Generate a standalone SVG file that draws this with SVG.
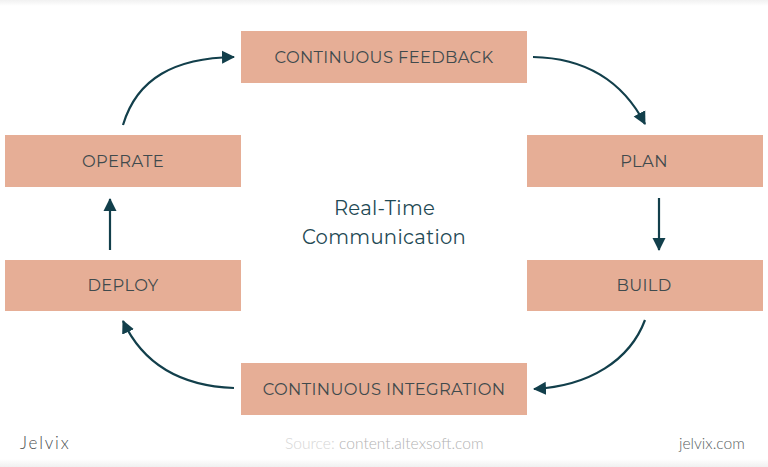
<svg xmlns="http://www.w3.org/2000/svg" width="768" height="467" viewBox="0 0 768 467">
<defs>
<linearGradient id="top" x1="0" y1="0" x2="0" y2="1"><stop offset="0" stop-color="#f1f1f1"/><stop offset="1" stop-color="#ffffff"/></linearGradient>
<linearGradient id="bot" x1="0" y1="0" x2="0" y2="1"><stop offset="0" stop-color="#ffffff"/><stop offset="1" stop-color="#f0f0f0"/></linearGradient>
<marker id="ah" markerUnits="userSpaceOnUse" markerWidth="14" markerHeight="14" refX="12" refY="7" orient="auto"><path d="M0 0.5L13 7L0 13.5Z" fill="#123f4b"/></marker>
</defs>
<style>
.b{fill:#e6ae96}
.t{font-family:Montserrat,"Lato","Liberation Sans",sans-serif;font-size:16.35px;fill:#3f4a4d;text-anchor:middle;letter-spacing:.35px}
.c{fill:none;stroke:#123f4b;stroke-width:2.2;marker-end:url(#ah)}
.f{font-family:"Lato","Liberation Sans",sans-serif;font-size:15.6px;font-weight:300}
</style>
<rect width="768" height="467" fill="#ffffff"/>
<rect width="768" height="6" fill="url(#top)"/>
<rect y="459" width="768" height="8" fill="url(#bot)"/>
<g id="connectors">
<path class="c" d="M533 57C585 58 622 80 645 124"/>
<path class="c" d="M659 198V250"/>
<path class="c" d="M645 320C630 360 590 386 534 389"/>
<path class="c" d="M234 388C180 386 143 364 123 321"/>
<path class="c" d="M110 250V199"/>
<path class="c" d="M123 125C137 78 175 58 234 57"/>
</g>
<g id="node-feedback"><rect class="b" x="241" y="31" width="286" height="52"/><text class="t" x="384" y="63">CONTINUOUS FEEDBACK</text></g>
<g id="node-plan"><rect class="b" x="527" y="135" width="236" height="52"/><text class="t" x="644" y="167">PLAN</text></g>
<g id="node-build"><rect class="b" x="527" y="260" width="236" height="51"/><text class="t" x="644" y="291">BUILD</text></g>
<g id="node-integration"><rect class="b" x="241" y="363" width="286" height="52"/><text class="t" x="384" y="395">CONTINUOUS INTEGRATION</text></g>
<g id="node-deploy"><rect class="b" x="5" y="260" width="236" height="51"/><text class="t" x="123" y="291">DEPLOY</text></g>
<g id="node-operate"><rect class="b" x="5" y="135" width="236" height="52"/><text class="t" x="123" y="167">OPERATE</text></g>
<g id="center" font-family="Montserrat,Lato,'Liberation Sans',sans-serif" font-size="19.6" fill="#1f4a55" text-anchor="middle" letter-spacing=".3"><text x="384.5" y="215">Real-Time</text><text x="384" y="243.500">Communication</text></g>
<g id="footer">
<text x="20" y="449" font-family="'Lato','Liberation Sans',sans-serif" font-size="17" fill="#4a4f52" letter-spacing="1.8" font-weight="300">Jelvix</text>
<text class="f" x="285" y="449" fill="#d6d6d6">Source:</text>
<text class="f" x="339" y="449" fill="#b3b3b3">content.altexsoft.com</text>
<text class="f" x="679" y="449" fill="#5a5f62" style="font-size:15.6px">jelvix.com</text>
</g>
</svg>
